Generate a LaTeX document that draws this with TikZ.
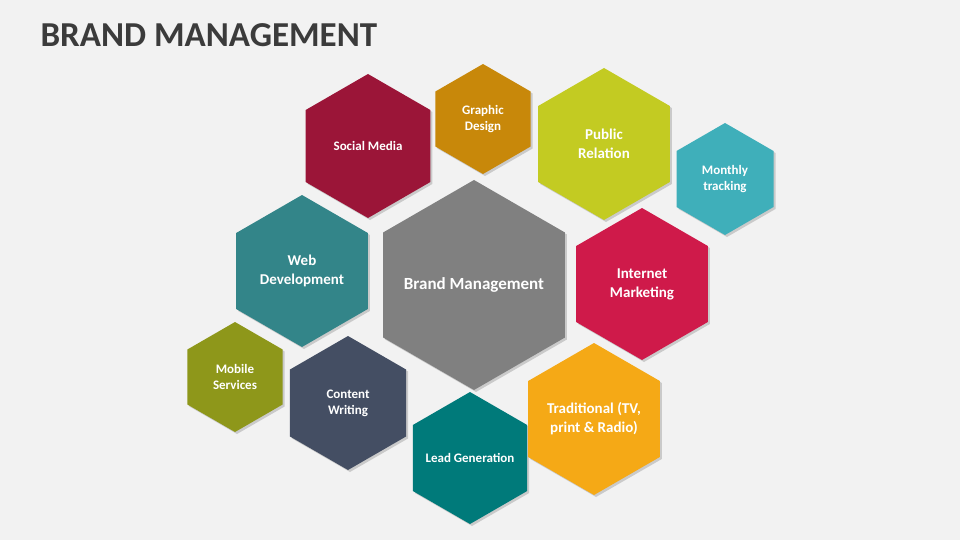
\documentclass[tikz,border=0pt]{standalone}
\usepackage{fontspec}
\setmainfont{Carlito}
\usetikzlibrary{shapes.geometric,shadows}
\definecolor{bg}{HTML}{F2F2F2}
\definecolor{cSoc}{HTML}{9B1538}
\definecolor{cGra}{HTML}{C8880A}
\definecolor{cPub}{HTML}{C3CB22}
\definecolor{cMon}{HTML}{3FAFBA}
\definecolor{cWeb}{HTML}{338589}
\definecolor{cInt}{HTML}{CF1A4A}
\definecolor{cMob}{HTML}{8E971A}
\definecolor{cCon}{HTML}{444E63}
\definecolor{cLead}{HTML}{007A7A}
\definecolor{cTra}{HTML}{F5A916}
\definecolor{cBra}{HTML}{808080}
\definecolor{cTitle}{HTML}{3B3B3B}
\tikzset{hexa/.style={regular polygon,regular polygon sides=6,shape border rotate=90,inner sep=0pt,
  draw=none,drop shadow={shadow xshift=2pt,shadow yshift=-2pt,opacity=0.35}},
  hxs/.style={text=white,align=center,inner sep=0pt,font=\bfseries\fontsize{13}{16}\selectfont},
  hxl/.style={text=white,align=center,inner sep=0pt,font=\bfseries\fontsize{15}{19}\selectfont}}
\begin{document}
\begin{tikzpicture}[x=1pt,y=-1pt]
\fill[bg] (0,0) rectangle (960,540);
\useasboundingbox (0,0) rectangle (960,540);
\node[anchor=west,text=cTitle,font=\bfseries\fontsize{35}{40}\selectfont] (title) at (37,35) {BRAND MANAGEMENT};
\node[hexa,fill=cSoc,minimum size=144pt] (soc) at (368,146) {};
\node[hexa,fill=cGra,minimum size=110pt] (gra) at (483,119) {};
\node[hexa,fill=cPub,minimum size=152pt] (pub) at (604,144) {};
\node[hexa,fill=cMon,minimum size=112pt] (mon) at (725,179) {};
\node[hexa,fill=cWeb,minimum size=152pt] (web) at (302,271) {};
\node[hexa,fill=cBra,minimum size=210pt] (bra) at (474,285) {};
\node[hexa,fill=cInt,minimum size=152pt] (int) at (642,284) {};
\node[hexa,fill=cMob,minimum size=110pt] (mob) at (235,377) {};
\node[hexa,fill=cCon,minimum size=134pt] (con) at (348,403) {};
\node[hexa,fill=cLead,minimum size=132pt] (lead) at (470,458) {};
\node[hexa,fill=cTra,minimum size=152pt] (tra) at (594,419) {};
\node[hxs] (tsoc) at (soc.center) {Social Media};
\node[hxs] (tgra) at (gra.center) {Graphic\\Design};
\node[hxl] (tpub) at (pub.center) {Public\\Relation};
\node[hxs] (tmon) at (mon.center) {Monthly\\tracking};
\node[hxl] (tweb) at (web.center) {Web\\Development};
\node[hxl,font=\bfseries\fontsize{17}{20}\selectfont] (tbra) at (bra.center) {Brand Management};
\node[hxl] (tint) at (int.center) {Internet\\Marketing};
\node[hxs] (tmob) at (mob.center) {Mobile\\Services};
\node[hxs] (tcon) at (con.center) {Content\\Writing};
\node[hxs] (tlead) at (lead.center) {Lead Generation};
\node[hxl] (ttra) at (tra.center) {Traditional (TV,\\print \& Radio)};
\end{tikzpicture}
\end{document}
